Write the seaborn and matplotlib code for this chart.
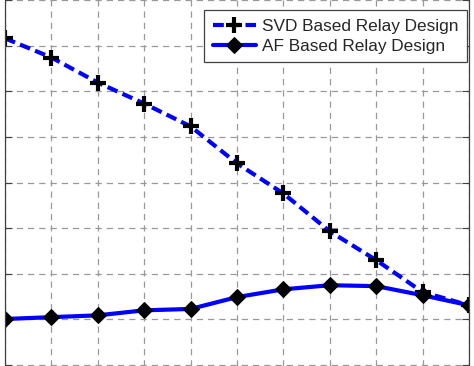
import matplotlib
matplotlib.use("Agg")
import matplotlib.pyplot as plt
import seaborn as sns
import pandas as pd

x_vals = [0, 1, 2, 3, 4, 5, 6, 7, 8, 9, 10]
svd_vals = [7.16, 6.74, 6.19, 5.73, 5.23, 4.42, 3.76, 2.93, 2.30, 1.60, 1.31]
af_vals = [1.01, 1.05, 1.09, 1.20, 1.23, 1.49, 1.66, 1.75, 1.73, 1.53, 1.31]
labels = ["SVD Based Relay Design", "AF Based Relay Design"]

sns.set_theme(style="white")
plt.rcParams['font.family'] = ['Liberation Sans', 'DejaVu Sans']

fig = plt.figure(figsize=(4.74, 3.66), dpi=100)
ax = fig.add_axes([5 / 474, 0, 464 / 474, 1])

df_svd = pd.DataFrame({"x": x_vals, "y": svd_vals})
df_af = pd.DataFrame({"x": x_vals, "y": af_vals})

sns.lineplot(data=df_svd, x="x", y="y", ax=ax, color="#0000ff", lw=3,
             linestyle=(0, (2.6, 1.3)), marker="+", markersize=11,
             markeredgewidth=3, markeredgecolor="black", markerfacecolor="black",
             label=labels[0])
sns.lineplot(data=df_af, x="x", y="y", ax=ax, color="#0000ff", lw=3,
             marker="D", markersize=8, markeredgecolor="black",
             markerfacecolor="black", label=labels[1])

ax.set_xlim(0, 10)
ax.set_ylim(-0.02, 7.99)
ax.set_xticks(range(0, 11))
ax.set_yticks(range(0, 9))
ax.set_xlabel("")
ax.set_ylabel("")
ax.tick_params(axis="x", bottom=False, top=False, labelbottom=False)
ax.tick_params(axis="y", left=True, right=True, direction="in", length=5,
               width=0.8, color="#404040", labelleft=False)
ax.grid(True, color="#999999", linestyle=(0, (5, 4)), linewidth=0.9)
for side in ["top", "bottom"]:
    ax.spines[side].set_visible(False)
for side in ["left", "right"]:
    ax.spines[side].set_visible(True)
    ax.spines[side].set_color("#404040")
    ax.spines[side].set_linewidth(0.9)

leg = ax.legend(loc="upper right", bbox_to_anchor=(0.9957, 0.9727),
                borderaxespad=0, fontsize=12.4, handlelength=2.5,
                handletextpad=0.35, labelspacing=0.3, borderpad=0.5,
                fancybox=False, framealpha=1, edgecolor="#404040")
leg.get_frame().set_linewidth(0.9)

fig.savefig("out.png", dpi=100)
